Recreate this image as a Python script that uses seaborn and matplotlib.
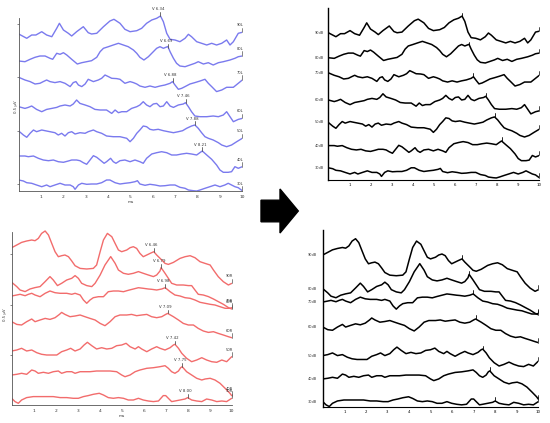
import numpy as np
import pandas as pd
import matplotlib
matplotlib.use("Agg")
import matplotlib.pyplot as plt
import seaborn as sns
from matplotlib.patches import FancyArrow
from matplotlib.transforms import blended_transform_factory

# Stimulus levels (dB), top trace first
levels = ["90", "80", "70", "60", "50", "40", "30"]

# Left ear traces: (time ms, amplitude) - amplitude in arbitrary units (0.5 uV ~ 53)
l90 = [(0, 0), (0.36, -4.3), (0.58, -1), (0.77, -1), (1.03, 2.3), (1.25, -1), (1.48, -2.7), (1.70, 5.7),
       (1.82, 10.7), (2.00, 4), (2.22, 0.7), (2.37, -2), (2.59, 2.3), (2.89, 7.3), (3.11, 1.3), (3.26, 0),
       (3.49, 0.7), (3.79, 7.3), (4.08, 13), (4.26, 14.7), (4.53, 10.7), (4.75, 4.7), (4.98, 2.3), (5.28, 3.3),
       (5.50, 5.7), (5.72, 10.7), (5.95, 14), (6.17, 15.7), (6.34, 18), (6.47, 12.3), (6.62, 0.7), (6.77, -5.3),
       (6.99, -6), (7.21, -7.7), (7.44, -4.3), (7.59, -0.3), (7.73, -2.7), (7.96, -7.7), (8.18, -9.3),
       (8.41, -11), (8.63, -9.3), (8.85, -11), (9.08, -9.3), (9.30, -6), (9.45, -11), (9.60, -7.7),
       (9.82, 0.7), (10, 1.7)]
l80 = [(0, 0), (0.28, -0.7), (0.51, 1.7), (0.73, 3.7), (0.95, 5), (1.18, 5), (1.40, 2.7), (1.52, 1.7),
       (1.70, 7.7), (1.85, 6.7), (2.00, 8.3), (2.15, 6), (2.37, 1.7), (2.62, -3), (2.82, -1.7), (3.04, -0.7),
       (3.26, 0.3), (3.49, 3.7), (3.64, 9.3), (3.79, 12.7), (4.01, 14.3), (4.23, 16), (4.46, 17.7), (4.68, 16),
       (4.90, 14.3), (5.13, 11), (5.28, 7.7), (5.42, 3.7), (5.60, 1), (5.80, 4.3), (6.02, 9.3), (6.17, 12.7),
       (6.32, 14.3), (6.47, 12.7), (6.67, 14.5), (6.77, 9.3), (6.92, 2.7), (7.06, -2.3), (7.21, -5),
       (7.44, -5.7), (7.66, -4), (7.88, -2.3), (8.03, -0.7), (8.26, -3), (8.48, -1.7), (8.70, -4),
       (8.93, -1.7), (9.15, -0.7), (9.45, 1), (9.67, 2.7), (9.82, 4.3), (10, 5)]
l70 = [(0, 0), (0.28, -2.7), (0.51, -4.3), (0.73, -6.7), (0.95, -6), (1.10, -4.3), (1.25, -2.7), (1.40, -4.3),
       (1.62, -5.3), (1.85, -4.3), (2.07, -6), (2.30, -9.3), (2.44, -5.3), (2.56, -4.3), (2.67, -7.7),
       (2.82, -9.3), (2.97, -6.7), (3.11, -2), (3.34, -4.3), (3.56, -2.7), (3.71, -1), (3.86, 2.3), (4.01, 0.7),
       (4.16, -1), (4.38, -1.3), (4.53, -2), (4.75, -6), (4.98, -4.3), (5.13, -5.3), (5.28, -6.7), (5.42, -8.7),
       (5.65, -10), (5.87, -8.7), (6.10, -10), (6.32, -8.7), (6.54, -7.7), (6.77, -6), (6.88, -4.3),
       (6.99, -7.7), (7.14, -12), (7.29, -11), (7.44, -9.3), (7.66, -6.7), (7.88, -5.3), (8.11, -3.7),
       (8.33, -2), (8.48, -6), (8.63, -9.3), (8.85, -14.3), (9.08, -12.7), (9.30, -10), (9.60, -10),
       (9.82, -6), (10, -2.7)]
l60 = [(0, 0), (0.28, -1.7), (0.43, -0.7), (0.58, 0.7), (0.80, -2.7), (1.03, -5), (1.25, -2.7), (1.48, -1.7),
       (1.70, -0.7), (1.85, 0.7), (2.07, 1.7), (2.30, 0.7), (2.44, 2.7), (2.59, 6.7), (2.74, 3.3), (2.97, 1.7),
       (3.19, 0), (3.41, -2.7), (3.64, -3.3), (3.93, -3.3), (4.16, -6.7), (4.31, -3.3), (4.46, -6), (4.61, -5),
       (4.83, -5), (5.05, -1.7), (5.28, 0), (5.42, 1.7), (5.57, 5), (5.72, 1.7), (5.87, 0), (6.02, 2.7),
       (6.17, 3.3), (6.32, 0), (6.47, 0.7), (6.62, 5), (6.77, 0.7), (6.92, -0.7), (7.14, 1.7), (7.36, 2.7),
       (7.46, 4), (7.59, 0), (7.73, -5), (7.88, -9.3), (8.11, -10), (8.41, -10), (8.70, -9.3), (8.93, -10),
       (9.15, -8.3), (9.30, -5), (9.45, -10), (9.60, -15), (9.82, -12.7), (10, -11.7)]
l50 = [(0, 0), (0.21, -4), (0.36, -6.3), (0.51, -2.3), (0.66, 1), (0.80, -0.7), (1.03, 1), (1.18, 0.3),
       (1.40, -0.7), (1.62, -1.7), (1.77, -4), (1.92, -2.3), (2.07, -5), (2.22, -1.7), (2.37, -0.7), (2.52, -3),
       (2.74, -1.7), (2.97, -2.3), (3.11, -0.7), (3.34, 1), (3.49, -0.7), (3.71, -2.3), (3.93, -5), (4.23, -5.7),
       (4.53, -5.7), (4.83, -7.3), (4.98, -10.7), (5.13, -7.3), (5.28, -2.3), (5.42, 1), (5.57, 5), (5.72, 4.3),
       (5.87, 1.7), (6.02, 1), (6.24, 1.7), (6.47, 0.3), (6.69, -0.7), (6.92, -1.7), (7.14, -0.7), (7.33, 0.3),
       (7.51, 2.7), (7.73, 5), (7.88, 6), (8.03, 2.7), (8.18, -1.7), (8.33, -5.7), (8.48, -7.3), (8.70, -9),
       (8.93, -11.7), (9.08, -14), (9.30, -15.7), (9.52, -14), (9.75, -10.7), (10, -7.3)]
l40 = [(0, 0), (0.28, 0), (0.43, -0.7), (0.66, 0), (0.88, -2.3), (1.10, -4), (1.33, -4.7), (1.55, -4),
       (1.77, -5.7), (2.00, -6.3), (2.22, -5), (2.37, -4), (2.59, -4), (2.74, -4.7), (2.89, -6.7), (3.04, -8.3),
       (3.19, -4), (3.34, 0.3), (3.49, -1.3), (3.64, -4), (3.82, -7.3), (3.93, -5.7), (4.11, -2.3), (4.23, -5.7),
       (4.35, -7.3), (4.53, -4.7), (4.75, -4), (4.98, -5.7), (5.20, -4), (5.42, -5.7), (5.57, -7.3), (5.72, -2.3),
       (5.95, 2), (6.17, 3.3), (6.39, 4.3), (6.62, 3.3), (6.84, 1), (7.06, 1), (7.29, 2), (7.51, 2.7),
       (7.73, 2), (7.96, 1), (8.10, 3.3), (8.21, 5), (8.41, 1), (8.63, -3.3), (8.85, -9), (9.00, -14),
       (9.15, -16.3), (9.37, -16.3), (9.52, -15.7), (9.67, -10.7), (9.82, -12.3), (10, -10.7)]
l30 = [(0, 0), (0.21, -1), (0.36, -2.7), (0.58, -3.3), (0.80, -5), (1.03, -6.7), (1.25, -5), (1.40, -6.7),
       (1.62, -5), (1.85, -3.3), (2.07, -5), (2.30, -5), (2.44, -6.7), (2.52, -9.3), (2.67, -5), (2.82, -3.3),
       (3.04, -4.3), (3.26, -4), (3.49, -4), (3.71, -2.7), (3.93, 0), (4.08, 0), (4.31, -2.7), (4.53, -4),
       (4.75, -3.3), (4.98, -2.7), (5.20, -1.7), (5.31, -0.7), (5.42, -4), (5.65, -5.3), (5.87, -4.3),
       (6.10, -5), (6.32, -6), (6.54, -5.7), (6.77, -5), (6.99, -5), (7.21, -7.3), (7.44, -8.3), (7.59, -10),
       (7.81, -10.7), (7.96, -11), (8.11, -10), (8.33, -8.3), (8.55, -6.7), (8.78, -5), (9.00, -6.7),
       (9.22, -5), (9.37, -3.3), (9.52, -5), (9.67, -6.7), (9.82, -7.7), (10, -10.7)]

# Right ear traces
r90 = [(0, 0), (0.23, 2.7), (0.45, 5.3), (0.68, 6.7), (0.91, 7.7), (1.06, 7), (1.21, 9.3), (1.36, 14.3),
       (1.52, 16.7), (1.67, 12.7), (1.82, 4.3), (1.97, -4), (2.12, -9), (2.27, -8), (2.42, -7.3), (2.58, -9),
       (2.73, -13.3), (2.88, -18), (3.11, -20.7), (3.41, -21.3), (3.71, -20.7), (3.86, -17.3), (4.02, -4),
       (4.17, 7.7), (4.35, 14.3), (4.55, 11), (4.70, 4.3), (4.85, -2.3), (5.00, -4), (5.23, -2.3), (5.38, 0),
       (5.53, 1), (5.68, -0.7), (5.83, -5.7), (5.98, -9), (6.14, -7.3), (6.29, -5.7), (6.46, -4), (6.59, -7.3),
       (6.82, -12.3), (6.97, -15.7), (7.12, -16.7), (7.35, -14.7), (7.65, -10.7), (7.88, -9), (8.11, -8),
       (8.33, -10), (8.56, -14), (8.79, -15.7), (9.02, -17.3), (9.17, -22.3), (9.39, -29), (9.62, -34),
       (9.85, -37.3), (10, -35.7)]
r80 = [(0, 0), (0.23, -4.3), (0.38, -7.7), (0.61, -9.3), (0.83, -6.7), (1.06, -5.3), (1.29, -4.3), (1.52, 0.7),
       (1.74, 5.7), (1.89, 2.3), (2.08, -3.3), (2.27, -1), (2.50, 2.3), (2.73, 4), (2.88, 6.7), (3.03, 4),
       (3.18, -1), (3.41, -3.3), (3.64, -4.3), (3.79, -1), (4.02, 7.3), (4.24, 17.3), (4.50, 25.7), (4.70, 19),
       (4.85, 12.3), (5.08, 9), (5.30, 8), (5.53, 9), (5.76, 10.7), (5.98, 9), (6.21, 7.3), (6.44, 5.7),
       (6.59, 7.3), (6.74, 11.3), (6.79, 14.7), (6.97, 9), (7.12, 4), (7.27, -1), (7.50, -2.7), (7.80, -2.7),
       (8.03, -3.3), (8.18, -3.3), (8.33, -7.7), (8.48, -12), (8.71, -12.7), (8.94, -14.3), (9.17, -16.7),
       (9.39, -19.3), (9.62, -22), (9.85, -25.3), (10, -26.7)]
r70 = [(0, 0), (0.23, 1), (0.38, 1.7), (0.61, 0.3), (0.76, 1.7), (0.91, 2.7), (1.06, 1), (1.29, -0.7),
       (1.52, 2.7), (1.74, 5), (1.97, 3.3), (2.20, 2.7), (2.50, 2.7), (2.73, 1.7), (2.88, 2.7), (3.11, 1),
       (3.26, -4), (3.41, -7.3), (3.56, -4), (3.71, -1.7), (3.94, -0.7), (4.17, -0.7), (4.39, 4.3), (4.62, 5),
       (4.85, 5), (5.08, 4.3), (5.30, 5.7), (5.53, 7), (5.76, 8.3), (5.98, 7.7), (6.21, 7), (6.36, 6.7),
       (6.59, 6), (6.82, 7), (6.98, 8.3), (7.20, 4.3), (7.42, 1), (7.65, 0), (7.88, -1.7), (8.11, -2.3),
       (8.33, -4), (8.56, -6.3), (8.79, -7.3), (9.02, -8.3), (9.24, -9), (9.47, -10.7), (9.70, -12.3),
       (9.92, -12.3), (10, -11.7)]
r60 = [(0, 0), (0.23, -2.7), (0.45, -3.3), (0.68, 0), (0.91, 2.7), (1.06, 0), (1.29, 1.7), (1.52, 3.3),
       (1.74, 2.3), (1.97, 4), (2.17, 7.3), (2.27, 9.3), (2.42, 7.3), (2.65, 5), (2.88, 5.7), (3.11, 6.7),
       (3.33, 5), (3.56, 3.3), (3.79, 1.7), (4.02, -1.7), (4.24, -4), (4.47, 0), (4.70, 5), (4.92, 6.7),
       (5.23, 6.7), (5.45, 7.3), (5.68, 6), (5.91, 6.7), (6.14, 7.3), (6.36, 5), (6.59, 4), (6.82, 5),
       (7.00, 7.3), (7.09, 8.3), (7.35, 5), (7.58, 1.7), (7.80, -1.7), (8.03, -3.3), (8.26, -3.3), (8.48, -6.7),
       (8.71, -9.3), (8.94, -10.7), (9.17, -10), (9.39, -11.7), (9.62, -13.3), (9.85, -15), (10, -16)]
r50 = [(0, 0), (0.23, 1), (0.45, 2.7), (0.68, 0), (0.91, 1), (1.14, -1.7), (1.36, -3.3), (1.59, -4),
       (1.82, -4), (2.05, -4), (2.27, -0.7), (2.50, 1), (2.68, 2.7), (2.88, 0), (3.11, 2), (3.29, 6),
       (3.44, 8.7), (3.64, 5.3), (3.86, 2), (4.09, 3.3), (4.32, 2), (4.55, 2.7), (4.77, 5.3), (5.00, 6),
       (5.20, 7.7), (5.38, 4.3), (5.61, 2), (5.76, 4.3), (5.91, 2), (6.14, -0.7), (6.36, 2), (6.59, 4.3),
       (6.74, 2.7), (6.97, 1), (7.20, 3.3), (7.35, 6), (7.42, 6.7), (7.58, 2.7), (7.73, -2.3), (7.95, -7.3),
       (8.18, -10.7), (8.41, -9), (8.64, -6.7), (8.86, -9), (9.09, -10.7), (9.32, -11.3), (9.55, -9),
       (9.77, -10.7), (10, -5.7)]
r40 = [(0, 0), (0.23, 0.7), (0.45, 1.7), (0.68, 0.7), (0.91, 5), (1.06, 4), (1.21, 1.7), (1.44, 2.7),
       (1.67, 1.7), (1.89, 3.3), (2.12, 4), (2.27, 1.7), (2.50, 3.3), (2.73, 3.3), (2.88, 1.7), (3.11, 3.3),
       (3.33, 3.3), (3.56, 3.3), (3.86, 4), (4.17, 4), (4.47, 4), (4.77, 3.3), (5.00, 0), (5.15, -1.7),
       (5.38, 0), (5.61, 3.3), (5.83, 5), (6.14, 6.7), (6.44, 7.3), (6.74, 8.3), (6.97, 9.3), (7.12, 6.7),
       (7.27, 3.3), (7.42, 1.7), (7.58, 4), (7.68, 7.3), (7.75, 8.3), (7.95, 3.3), (8.18, 0), (8.41, -3.3),
       (8.64, -5), (8.79, -4), (9.02, -3.3), (9.24, -5), (9.47, -8.3), (9.70, -13.3), (9.92, -18.3),
       (10, -20.7)]
r30 = [(0, 0), (0.15, -3.3), (0.30, -5), (0.45, -1.7), (0.68, 0.7), (0.98, 1.7), (1.29, 1.7), (1.59, 1.7),
       (1.89, 1.7), (2.20, 0.7), (2.50, 0.7), (2.80, 0), (3.03, 0), (3.26, 1.7), (3.48, 2.7), (3.71, 4),
       (3.98, 5), (4.17, 3.3), (4.39, 0.7), (4.62, 0), (4.85, 0.7), (5.08, 0), (5.30, -1.7), (5.53, -1.7),
       (5.76, 0), (5.98, -1.7), (6.21, -2.7), (6.44, -3.3), (6.67, -2.7), (6.89, 2.7), (7.00, 2.7), (7.12, 0),
       (7.27, -3.3), (7.42, -2.7), (7.65, -1.7), (7.88, -0.7), (8.00, 0.7), (8.18, -1.7), (8.41, -2.7),
       (8.64, -3.3), (8.86, -0.7), (9.09, -1.7), (9.32, -3.3), (9.55, -2.7), (9.77, -3.3), (10, 0)]

left_traces = [l90, l80, l70, l60, l50, l40, l30]
right_traces = [r90, r80, r70, r60, r50, r40, r30]

# baseline of each trace above the time axis (same units)
left_base = [157, 130, 113.7, 84.3, 60, 35, 11]
right_base = [157.3, 122.7, 109, 83.3, 54, 30, 6.7]

# wave V latencies (ms)
left_wave_v = [6.34, 6.69, 6.88, 7.46, 7.88, 8.21, None]
right_wave_v = [6.46, 6.79, 6.98, 7.09, 7.42, 7.75, 8.00]

W, H = 550, 423
BLUE = "#7a7aee"
RED = "#f26c6c"

sns.set_style("white")
plt.rcParams["font.family"] = ["DejaVu Sans"]

fig = plt.figure(figsize=(W / 100, H / 100), dpi=100)


def px_rect(x0, y0, x1, y1):
    return [x0 / W, 1 - y1 / H, (x1 - x0) / W, (y1 - y0) / H]


def draw_panel(rect, ylim, scale, traces, bases, wave_v, color, ear, raw, spine_top, lab_dx):
    ax = fig.add_axes(px_rect(*rect))
    ax.patch.set_alpha(0)
    u = 1 / scale  # data units per pixel
    line_c = color if raw else "black"
    mark_c = "#555555" if raw else "black"
    for lvl, tr, base, lat in zip(levels, traces, bases, wave_v):
        df = pd.DataFrame(tr, columns=["ms", "amp"])
        df["y"] = df["amp"] + base
        sns.lineplot(data=df, x="ms", y="y", ax=ax, color=line_c, lw=1.0 if raw else 1.1,
                     sort=False, estimator=None, legend=False)
        end_y = df["y"].iloc[-1]
        ax.plot([10, 10], [end_y, end_y + 4.5 * u], color=mark_c, lw=0.5, clip_on=False)
        if raw:
            ax.text(9.9, end_y + 7 * u, lvl + ear, fontsize=2.6, ha="center", va="center", color="#333333")
        else:
            ax.text(lab_dx, base, lvl + "dB", fontsize=2.5, ha="right", va="center", color="#333333",
                    transform=blended_transform_factory(ax.transAxes, ax.transData))
        if lat is not None:
            peak = np.interp(lat, df["ms"], df["y"])
            ax.plot([lat, lat], [peak, peak + 3.5 * u], color=mark_c, lw=0.6)
            if raw:
                ax.text(lat - 0.1, peak + 6.5 * u, "V %.2f" % lat, fontsize=2.8, ha="center",
                        va="center", color="#333333")
    ax.set_xlim(0, 10)
    ax.set_ylim(*ylim)
    ax.set_xticks(range(1, 11))
    ax.set_xticklabels([str(i) for i in range(1, 11)])
    ax.tick_params(axis="x", length=1.2, width=0.5, pad=1.5, labelsize=3.2, colors="#333333")
    ax.set_xlabel("ms" if raw else "", fontsize=3, labelpad=1, color="#333333")
    ax.set_ylabel("")
    for s in ["top", "right"]:
        ax.spines[s].set_visible(False)
    sc = "#555555" if raw else "black"
    ax.spines["left"].set_color(sc)
    ax.spines["bottom"].set_color(sc)
    ax.spines["left"].set_linewidth(0.6 if raw else 1.0)
    ax.spines["bottom"].set_linewidth(0.6 if raw else 0.8)
    ax.spines["left"].set_bounds(ylim[0], spine_top)
    return ax


# left ear raw (blue), top-left
ax1 = draw_panel((18.7, 0, 242.3, 191), (0, 191), 1.0, left_traces, left_base, left_wave_v,
                 BLUE, "L", True, 173, 0)
ax1.set_yticks([7, 60, 114, 167])
ax1.set_yticklabels([])
ax1.tick_params(axis="y", length=1.5, width=0.5, colors="#555555", left=True)

# right ear raw (red), bottom-left
ax2 = draw_panel((11.7, 225, 231.7, 405), (0, 180), 1.0, right_traces, right_base, right_wave_v,
                 RED, "R", True, 173, 0)
ax2.set_yticks([50, 100, 151])
ax2.set_yticklabels([])
ax2.tick_params(axis="y", length=1.5, width=0.5, colors="#555555", left=True)

# redrawn traces (black), right column
ax3 = draw_panel((328.3, 0, 539.3, 180), (-2.2, 192.4), 0.925, left_traces, left_base,
                 left_wave_v[:6] + [None], BLUE, "L", False, 183.8, -0.019)
ax4 = draw_panel((322.8, 225, 538.3, 407), (1.2, 188.1), 0.974, right_traces, right_base,
                 right_wave_v, RED, "R", False, 182.9, -0.026)
for ax in (ax3, ax4):
    ax.set_yticks([])
    ax.tick_params(axis="x", pad=1.0, labelsize=2.8, colors="black")

# overlay in pixel coordinates for the arrow and axis captions
ov = fig.add_axes([0, 0, 1, 1])
ov.set_xlim(0, W)
ov.set_ylim(H, 0)
ov.axis("off")
ov.patch.set_alpha(0)
ov.add_patch(FancyArrow(261, 211, 37.3, 0, width=21.6, head_width=44, head_length=18.3,
                        length_includes_head=True, color="black"))
ov.text(16, 107, "0.5 µV", rotation=90, fontsize=2.8, ha="center", va="center", color="#333333")
ov.text(5, 315, "0.5 µV", rotation=90, fontsize=2.8, ha="center", va="center", color="#333333")

fig.savefig("out.png", dpi=100)
